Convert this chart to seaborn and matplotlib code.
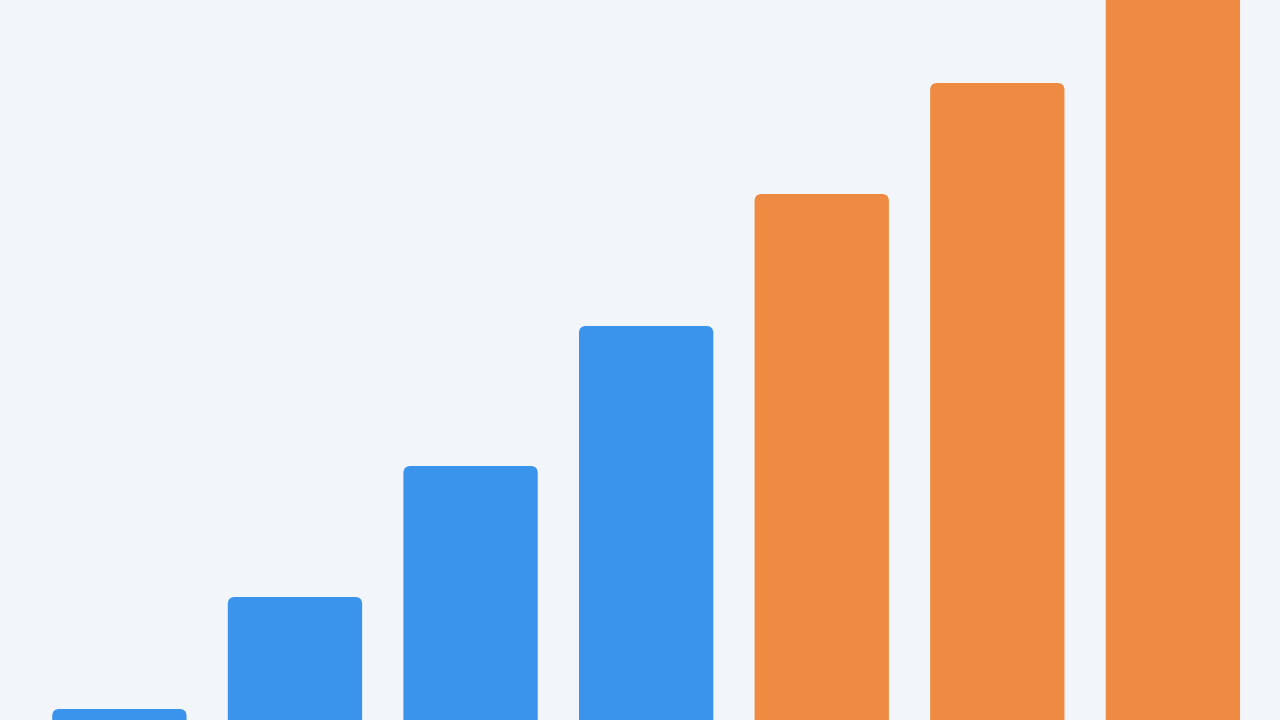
import matplotlib
matplotlib.use("Agg")
import matplotlib.pyplot as plt
from matplotlib.patches import FancyBboxPatch
import pandas as pd
import seaborn as sns

# Bar heights (last bar runs past the top)
categories = ["A", "B", "C", "D", "E", "F", "G"]
values = [11, 123, 254, 394, 526, 637, 760]
groups = ["blue", "blue", "blue", "blue", "orange", "orange", "orange"]

palette = {"blue": "#3a94ec", "orange": "#ef8a43"}
bg = "#f2f5f9"

df = pd.DataFrame({"category": categories, "value": values, "group": groups})

sns.set_theme(style="white")
fig = plt.figure(figsize=(12.8, 7.2), dpi=100)
fig.patch.set_facecolor(bg)
ax = fig.add_axes([0, 0, 1, 1])
ax.set_facecolor(bg)

sns.barplot(data=df, x="category", y="value", hue="group", palette=palette,
            width=0.765, dodge=False, legend=False, saturation=1, ax=ax)

ax.set_xlim(-0.68, 6.61)
ax.set_ylim(0, 720)

# swap the square bars for ones with rounded top corners
x_scale = 1280 / (6.61 + 0.68)  # pixels per x unit
for p in list(ax.patches):
    x, w, h = p.get_x(), p.get_width(), p.get_height()
    if h <= 0:
        continue
    fc = p.get_facecolor()
    p.set_visible(False)
    r = 7 / x_scale
    ax.add_patch(FancyBboxPatch((x, -30), w, h + 30,
                                boxstyle=f"round,pad=0,rounding_size={r}",
                                mutation_aspect=x_scale,
                                facecolor=fc, edgecolor="none"))

ax.set_axis_off()
fig.savefig("out.png", dpi=100, facecolor=bg)
